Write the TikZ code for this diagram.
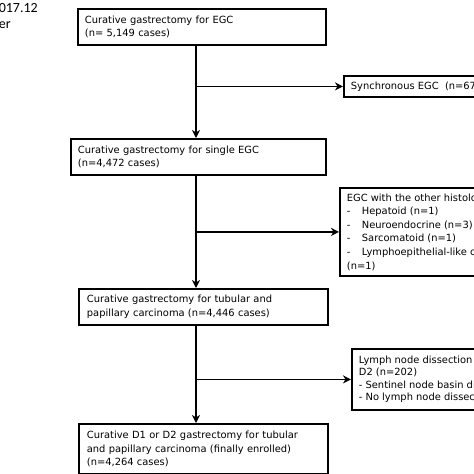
\documentclass[tikz,border=0pt]{standalone}
\usepackage{fontspec}
\setmainfont{DejaVu Sans}
\newfontfamily\headfont{Carlito}
\usetikzlibrary{arrows.meta}

\begin{document}
\begin{tikzpicture}[x=1pt,y=-1pt,
  stage/.style={draw, line width=1.8pt, anchor=north west, align=left,
    inner xsep=7pt, inner ysep=2pt, font=\fontsize{9.9}{13.6}\selectfont},
  flow/.style={line width=1.8pt, -{Stealth[length=8pt,width=8pt,inset=2.5pt]}}]
  \useasboundingbox (0,0) rectangle (474,474);
  \clip (0,0) rectangle (474,474);

  % --- Cut-off header text ---
  \node[anchor=east, inner sep=0pt, font=\headfont\fontsize{14}{16}\selectfont] (period) at (38,8) {017.12};
  \node[anchor=east, inner sep=0pt, font=\headfont\fontsize{14}{16}\selectfont] (site) at (11,25) {er};

  % --- Main stages ---
  \node[stage, text width=234pt, minimum height=36pt] (egc) at (77,8)
    {Curative gastrectomy for EGC\\(n= 5,149 cases)};
  \node[stage, text width=241pt, minimum height=36pt] (single) at (70,138)
    {Curative gastrectomy for single EGC\\(n=4,472 cases)};
  \node[stage, text width=233pt, minimum height=36pt, inner xsep=8pt] (tubular) at (78,288)
    {Curative gastrectomy for tubular and\\papillary carcinoma (n=4,446 cases)};
  \node[stage, text width=233pt, minimum height=50pt, inner xsep=8pt] (enrolled) at (78,423)
    {Curative D1 or D2 gastrectomy for tubular\\and papillary carcinoma (finally enrolled)\\(n=4,264 cases)};

  % --- Excluded cases, cut by the right edge ---
  \node[stage, minimum height=21pt] (sync) at (343,75)
    {Synchronous EGC\ \ (n=677)};
  \node[stage, minimum height=88pt] (histo) at (339,187)
    {EGC with the other histological types\\
     \makebox[15pt][l]{-}Hepatoid (n=1)\\
     \makebox[15pt][l]{-}Neuroendocrine (n=3)\\
     \makebox[15pt][l]{-}Sarcomatoid (n=1)\\
     \makebox[15pt][l]{-}Lymphoepithelial-like carcinoma\\
     (n=1)};
  \node[stage, minimum height=61pt, font=\fontsize{9.9}{12.4}\selectfont] (lnd) at (351,348)
    {Lymph node dissection\\D2 (n=202)\\- Sentinel node basin dissection\\- No lymph node dissection};

  % --- Trunk and branches ---
  \coordinate (t) at (196,0);
  \draw[flow] (egc.south -| t) -- (single.north -| t);
  \draw[flow] (single.south -| t) -- (tubular.north -| t);
  \draw[flow] (tubular.south -| t) -- (enrolled.north -| t);
  \draw[flow] (sync.west -| t) -- (sync.west);
  \draw[flow] (histo.west -| t) -- (histo.west);
  \draw[flow] (lnd.west -| t) -- (lnd.west);
\end{tikzpicture}
\end{document}
